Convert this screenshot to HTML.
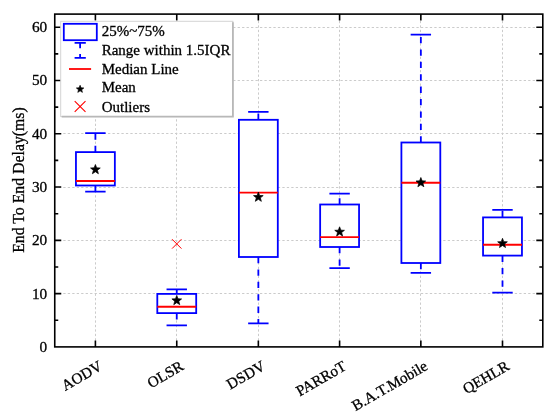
<!DOCTYPE html>
<html><head><meta charset="utf-8"><style>
html,body{margin:0;padding:0;background:#fff;}
svg{display:block;}
text{font-family:"Liberation Serif","Times New Roman",serif;fill:#000;stroke:#000;stroke-width:0.3px;}
</style></head><body>
<svg width="550" height="415" viewBox="0 0 550 415">
<rect width="550" height="415" fill="#fff"/>
<path d="M54.75 293.50H542.80M54.75 240.50H542.80M54.75 187.50H542.80M54.75 133.50H542.80M54.75 80.50H542.80M54.75 27.50H542.80" stroke="#cbcbcb" stroke-width="1" stroke-dasharray="2.3 2.17" stroke-dashoffset="0.39" fill="none"/>
<path d="M95.50 14.10V346.90M176.50 14.10V346.90M258.50 14.10V346.90M339.50 14.10V346.90M420.50 14.10V346.90M502.50 14.10V346.90" stroke="#cbcbcb" stroke-width="1" stroke-dasharray="2.3 2.17" stroke-dashoffset="2.14" fill="none"/>
<path d="M95.40 152.10V133.20M95.40 185.50V191.60" stroke="#0000ff" stroke-width="1.8" stroke-dasharray="6.3 6.1" fill="none"/>
<path d="M85.20 133.20H105.60M85.20 191.60H105.60" stroke="#0000ff" stroke-width="1.8" fill="none"/>
<rect x="75.95" y="152.10" width="38.90" height="33.40" fill="#fff" stroke="#0000ff" stroke-width="1.8"/>
<path d="M75.95 181.00H114.85" stroke="#ff0000" stroke-width="1.9" fill="none"/>
<polygon points="95.40,164.50 96.66,167.87 100.25,168.02 97.44,170.26 98.40,173.73 95.40,171.74 92.40,173.73 93.36,170.26 90.55,168.02 94.14,167.87" fill="#000" stroke="#000" stroke-width="0.7" stroke-linejoin="round"/>
<path d="M176.75 293.90V289.40M176.75 313.10V325.40" stroke="#0000ff" stroke-width="1.8" stroke-dasharray="6.3 6.1" fill="none"/>
<path d="M166.55 289.40H186.95M166.55 325.40H186.95" stroke="#0000ff" stroke-width="1.8" fill="none"/>
<rect x="157.30" y="293.90" width="38.90" height="19.20" fill="#fff" stroke="#0000ff" stroke-width="1.8"/>
<path d="M157.30 306.80H196.20" stroke="#ff0000" stroke-width="1.9" fill="none"/>
<polygon points="176.75,295.40 178.01,298.77 181.60,298.92 178.79,301.16 179.75,304.63 176.75,302.64 173.75,304.63 174.71,301.16 171.90,298.92 175.49,298.77" fill="#000" stroke="#000" stroke-width="0.7" stroke-linejoin="round"/>
<path d="M258.35 119.80V111.80M258.35 257.00V323.30" stroke="#0000ff" stroke-width="1.8" stroke-dasharray="6.3 6.1" fill="none"/>
<path d="M248.15 111.80H268.55M248.15 323.30H268.55" stroke="#0000ff" stroke-width="1.8" fill="none"/>
<rect x="238.90" y="119.80" width="38.90" height="137.20" fill="#fff" stroke="#0000ff" stroke-width="1.8"/>
<path d="M238.90 192.60H277.80" stroke="#ff0000" stroke-width="1.9" fill="none"/>
<polygon points="258.35,192.10 259.61,195.47 263.20,195.62 260.39,197.86 261.35,201.33 258.35,199.34 255.35,201.33 256.31,197.86 253.50,195.62 257.09,195.47" fill="#000" stroke="#000" stroke-width="0.7" stroke-linejoin="round"/>
<path d="M339.60 204.50V193.70M339.60 247.00V268.10" stroke="#0000ff" stroke-width="1.8" stroke-dasharray="6.3 6.1" fill="none"/>
<path d="M329.40 193.70H349.80M329.40 268.10H349.80" stroke="#0000ff" stroke-width="1.8" fill="none"/>
<rect x="320.15" y="204.50" width="38.90" height="42.50" fill="#fff" stroke="#0000ff" stroke-width="1.8"/>
<path d="M320.15 237.10H359.05" stroke="#ff0000" stroke-width="1.9" fill="none"/>
<polygon points="339.60,226.80 340.86,230.17 344.45,230.32 341.64,232.56 342.60,236.03 339.60,234.04 336.60,236.03 337.56,232.56 334.75,230.32 338.34,230.17" fill="#000" stroke="#000" stroke-width="0.7" stroke-linejoin="round"/>
<path d="M420.85 142.50V34.70M420.85 263.00V272.80" stroke="#0000ff" stroke-width="1.8" stroke-dasharray="6.3 6.1" fill="none"/>
<path d="M410.65 34.70H431.05M410.65 272.80H431.05" stroke="#0000ff" stroke-width="1.8" fill="none"/>
<rect x="401.40" y="142.50" width="38.90" height="120.50" fill="#fff" stroke="#0000ff" stroke-width="1.8"/>
<path d="M401.40 182.70H440.30" stroke="#ff0000" stroke-width="1.9" fill="none"/>
<polygon points="420.85,177.50 422.11,180.87 425.70,181.02 422.89,183.26 423.85,186.73 420.85,184.74 417.85,186.73 418.81,183.26 416.00,181.02 419.59,180.87" fill="#000" stroke="#000" stroke-width="0.7" stroke-linejoin="round"/>
<path d="M502.50 217.40V209.90M502.50 255.60V292.70" stroke="#0000ff" stroke-width="1.8" stroke-dasharray="6.3 6.1" fill="none"/>
<path d="M492.30 209.90H512.70M492.30 292.70H512.70" stroke="#0000ff" stroke-width="1.8" fill="none"/>
<rect x="483.05" y="217.40" width="38.90" height="38.20" fill="#fff" stroke="#0000ff" stroke-width="1.8"/>
<path d="M483.05 244.80H521.95" stroke="#ff0000" stroke-width="1.9" fill="none"/>
<polygon points="502.50,238.30 503.76,241.67 507.35,241.82 504.54,244.06 505.50,247.53 502.50,245.54 499.50,247.53 500.46,244.06 497.65,241.82 501.24,241.67" fill="#000" stroke="#000" stroke-width="0.7" stroke-linejoin="round"/>
<path d="M172.05 239.20L181.45 248.60M172.05 248.60L181.45 239.20" stroke="#ff0000" stroke-width="1.0" fill="none"/>
<rect x="54.75" y="14.10" width="488.05" height="332.80" fill="none" stroke="#000" stroke-width="1.6"/>
<path d="M54.75 320.26h3.5M542.80 320.26h-3.5M54.75 293.62h6.5M542.80 293.62h-6.5M54.75 266.98h3.5M542.80 266.98h-3.5M54.75 240.34h6.5M542.80 240.34h-6.5M54.75 213.70h3.5M542.80 213.70h-3.5M54.75 187.06h6.5M542.80 187.06h-6.5M54.75 160.42h3.5M542.80 160.42h-3.5M54.75 133.78h6.5M542.80 133.78h-6.5M54.75 107.14h3.5M542.80 107.14h-3.5M54.75 80.50h6.5M542.80 80.50h-6.5M54.75 53.86h3.5M542.80 53.86h-3.5M54.75 27.22h6.5M542.80 27.22h-6.5M95.40 346.90v-6.5M95.40 14.10v6.5M176.75 346.90v-6.5M176.75 14.10v6.5M258.35 346.90v-6.5M258.35 14.10v6.5M339.60 346.90v-6.5M339.60 14.10v6.5M420.85 346.90v-6.5M420.85 14.10v6.5M502.50 346.90v-6.5M502.50 14.10v6.5" stroke="#000" stroke-width="1.6" fill="none"/>
<text x="47.2" y="351.85" text-anchor="end" font-size="15.3">0</text>
<text x="47.2" y="298.57" text-anchor="end" font-size="15.3">10</text>
<text x="47.2" y="245.29" text-anchor="end" font-size="15.3">20</text>
<text x="47.2" y="192.01" text-anchor="end" font-size="15.3">30</text>
<text x="47.2" y="138.73" text-anchor="end" font-size="15.3">40</text>
<text x="47.2" y="85.45" text-anchor="end" font-size="15.3">50</text>
<text x="47.2" y="32.17" text-anchor="end" font-size="15.3">60</text>
<text transform="translate(23.8 252.8) rotate(-90)" font-size="15.8">End To End Delay(ms)</text>
<text transform="translate(103.20 369.00) rotate(-30)" text-anchor="end" font-size="15.2">AODV</text>
<text transform="translate(184.55 369.00) rotate(-30)" text-anchor="end" font-size="15.2">OLSR</text>
<text transform="translate(266.15 369.00) rotate(-30)" text-anchor="end" font-size="15.2">DSDV</text>
<text transform="translate(347.40 369.00) rotate(-30)" text-anchor="end" font-size="15.2">PARRoT</text>
<text transform="translate(428.65 369.00) rotate(-30)" text-anchor="end" font-size="15.2">B.A.T.Mobile</text>
<text transform="translate(510.30 369.00) rotate(-30)" text-anchor="end" font-size="15.2">QEHLR</text>
<rect x="60.7" y="21.3" width="172.20" height="95.30" fill="#fff" stroke="#d4d4d4" stroke-width="1"/>
<path d="M232.90 22.30V116.60H61.70" stroke="#b8b8b8" stroke-width="1.8" fill="none"/>
<rect x="63.8" y="23.8" width="33.0" height="16.4" fill="#fff" stroke="#0000ff" stroke-width="1.8"/>
<path d="M74.6 42.8H85.8M74.6 57.9H85.8M80.1 42.8V48.3M80.1 54.1V57.9" stroke="#0000ff" stroke-width="1.8" fill="none"/>
<path d="M69 69H91.1" stroke="#ff0000" stroke-width="1.8" fill="none"/>
<polygon points="80.10,85.30 81.06,87.87 83.81,87.99 81.66,89.71 82.39,92.36 80.10,90.84 77.81,92.36 78.54,89.71 76.39,87.99 79.14,87.87" fill="#000" stroke="#000" stroke-width="0.7" stroke-linejoin="round"/>
<path d="M74.70 101.10L85.50 111.90M74.70 111.90L85.50 101.10" stroke="#ff0000" stroke-width="1.1" fill="none"/>
<text x="101.7" y="36.00" font-size="15">25%~75%</text>
<text x="101.7" y="55.10" font-size="15">Range within 1.5IQR</text>
<text x="101.7" y="73.70" font-size="15">Median Line</text>
<text x="101.7" y="92.20" font-size="15">Mean</text>
<text x="101.7" y="111.60" font-size="15">Outliers</text>
</svg>
</body></html>
